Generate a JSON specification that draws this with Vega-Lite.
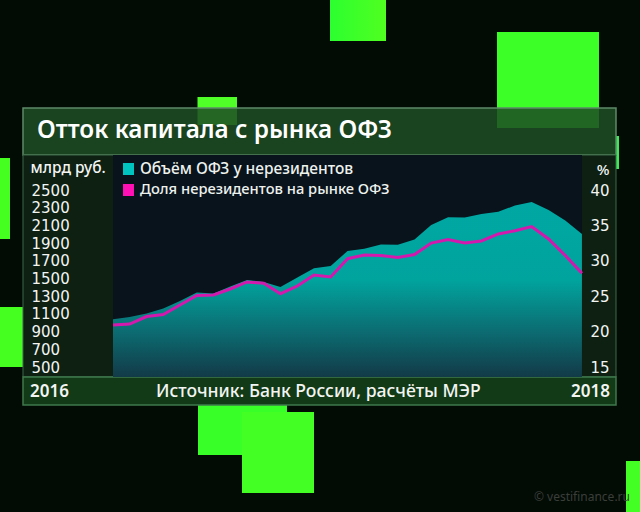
{"$schema":"https://vega.github.io/schema/vega-lite/v6.json","width":640,"height":512,"padding":0,"autosize":{"type":"none"},"background":"#030b05","view":{"stroke":null},"config":{"text":{"font":"Noto Sans"}},
"data":{"values":[
{"year":2016.0,"volume":1039,"share":20.93},{"year":2016.083,"volume":1065,"share":21.07},{"year":2016.167,"volume":1105,"share":22.13},{"year":2016.25,"volume":1161,"share":22.42},{"year":2016.333,"volume":1246,"share":23.76},{"year":2016.417,"volume":1342,"share":25.1},{"year":2016.5,"volume":1331,"share":25.17},{"year":2016.583,"volume":1410,"share":26.02},{"year":2016.667,"volume":1483,"share":27.01},{"year":2016.75,"volume":1461,"share":26.82},{"year":2016.833,"volume":1404,"share":25.35},{"year":2016.917,"volume":1511,"share":26.44},{"year":2017.0,"volume":1615,"share":28.0},{"year":2017.083,"volume":1641,"share":27.71},{"year":2017.167,"volume":1811,"share":30.3},{"year":2017.25,"volume":1837,"share":30.82},{"year":2017.333,"volume":1884,"share":30.75},{"year":2017.417,"volume":1881,"share":30.47},{"year":2017.5,"volume":1941,"share":30.89},{"year":2017.583,"volume":2105,"share":32.51},{"year":2017.667,"volume":2192,"share":33.0},{"year":2017.75,"volume":2188,"share":32.51},{"year":2017.833,"volume":2229,"share":32.8},{"year":2017.917,"volume":2254,"share":33.79},{"year":2018.0,"volume":2325,"share":34.25},{"year":2018.083,"volume":2365,"share":34.84},{"year":2018.167,"volume":2274,"share":33.08},{"year":2018.25,"volume":2155,"share":30.75},{"year":2018.333,"volume":2003,"share":28.23}
]},
"resolve":{"scale":{"y":"independent"},"axis":{"y":"independent"}},
"layer":[
{"layer":[
{"data":{"values":[{}]},"mark":{"type":"rect","color":{"gradient":"linear","x1":0,"y1":0,"x2":1,"y2":0,"stops":[{"offset":0,"color":"#2cff30"},{"offset":1,"color":"#50ff20"}]}},"encoding":{"x":{"datum":2017.0796,"type":"quantitative","axis":null,"scale":{"domain":[2015.4378,2018.6219],"nice":false,"zero":false}},"x2":{"datum":2017.3582},"y":{"datum":4646.9,"type":"quantitative","axis":null,"scale":{"domain":[-1138.3,4646.9],"nice":false,"zero":false}},"y2":{"datum":4183.6}}},
{"data":{"values":[{}]},"mark":{"type":"rect","color":"#3cff28"},"encoding":{"x":{"datum":2017.9104,"type":"quantitative","axis":null},"x2":{"datum":2018.4179},"y":{"datum":4285.3,"type":"quantitative","axis":null},"y2":{"datum":3200.6}}},
{"data":{"values":[{}]},"mark":{"type":"rect","color":"#50ff28"},"encoding":{"x":{"datum":2016.4204,"type":"quantitative","axis":null},"x2":{"datum":2016.6169},"y":{"datum":3550.9,"type":"quantitative","axis":null},"y2":{"datum":3234.5}}},
{"data":{"values":[{}]},"mark":{"type":"rect","color":"#44ff20"},"encoding":{"x":{"datum":2015.4378,"type":"quantitative","axis":null},"x2":{"datum":2015.4876},"y":{"datum":2861.7,"type":"quantitative","axis":null},"y2":{"datum":1946.4}}},
{"data":{"values":[{}]},"mark":{"type":"rect","color":"#44ff20"},"encoding":{"x":{"datum":2015.4378,"type":"quantitative","axis":null},"x2":{"datum":2015.5522},"y":{"datum":1178.1,"type":"quantitative","axis":null},"y2":{"datum":500}}},
{"data":{"values":[{}]},"mark":{"type":"rect","color":"#38ff28"},"encoding":{"x":{"datum":2016.4229,"type":"quantitative","axis":null},"x2":{"datum":2016.8656},"y":{"datum":70.8,"type":"quantitative","axis":null},"y2":{"datum":-494.2}}},
{"data":{"values":[{}]},"mark":{"type":"rect","color":"#44ff24"},"encoding":{"x":{"datum":2016.6418,"type":"quantitative","axis":null},"x2":{"datum":2017.0},"y":{"datum":-8.2,"type":"quantitative","axis":null},"y2":{"datum":-923.4}}},
{"data":{"values":[{}]},"mark":{"type":"rect","color":"#44ff24"},"encoding":{"x":{"datum":2018.5522,"type":"quantitative","axis":null},"x2":{"datum":2018.6219},"y":{"datum":-562,"type":"quantitative","axis":null},"y2":{"datum":-1138.3}}},
{"data":{"values":[{}]},"mark":{"type":"rect","color":"#3ee85a"},"encoding":{"x":{"datum":2018.5025,"type":"quantitative","axis":null},"x2":{"datum":2018.5174},"y":{"datum":3110,"type":"quantitative","axis":null},"y2":{"datum":2737}}},
{"data":{"values":[{}]},"mark":{"type":"rect","color":"#1e4d24","fillOpacity":0.86,"stroke":"#5d8a68","strokeWidth":1.5},"encoding":{"x":{"datum":2015.5522,"type":"quantitative","axis":null},"x2":{"datum":2018.5025},"y":{"datum":3426.6,"type":"quantitative","axis":null},"y2":{"datum":2895.6}}},
{"data":{"values":[{}]},"mark":{"type":"rect","color":"#0e2012","stroke":"#3d6a48","strokeWidth":1},"encoding":{"x":{"datum":2015.5522,"type":"quantitative","axis":null},"x2":{"datum":2018.5025},"y":{"datum":2895.6,"type":"quantitative","axis":null},"y2":{"datum":387.2}}},
{"data":{"values":[{}]},"mark":{"type":"rect","color":"#08131c"},"encoding":{"x":{"datum":2016.0,"type":"quantitative","axis":null},"x2":{"datum":2018.3333},"y":{"datum":2895.6,"type":"quantitative","axis":null},"y2":{"datum":387.2}}},
{"data":{"values":[{}]},"mark":{"type":"rect","color":"#123a17","stroke":"#3f7a4c","strokeWidth":1.5},"encoding":{"x":{"datum":2015.5522,"type":"quantitative","axis":null},"x2":{"datum":2018.5025},"y":{"datum":387.2,"type":"quantitative","axis":null},"y2":{"datum":70.8}}},
{"data":{"values":[{}]},"mark":{"type":"rect","color":"#00c4bf"},"encoding":{"x":{"datum":2016.0498,"type":"quantitative","axis":null},"x2":{"datum":2016.1045},"y":{"datum":2805.2,"type":"quantitative","axis":null},"y2":{"datum":2669.6}}},
{"data":{"values":[{}]},"mark":{"type":"rect","color":"#ff10b4"},"encoding":{"x":{"datum":2016.0498,"type":"quantitative","axis":null},"x2":{"datum":2016.1045},"y":{"datum":2567.9,"type":"quantitative","axis":null},"y2":{"datum":2432.3}}},
{"data":{"values":[{"label":"Объём ОФЗ у нерезидентов"}]},"mark":{"type":"text","align":"left","baseline":"middle","fontSize":15.5,"fontWeight":500,"color":"#eef2ee"},"encoding":{"text":{"field":"label"},"x":{"datum":2016.1343,"type":"quantitative","axis":null},"y":{"datum":2737.4,"type":"quantitative","axis":null}}},
{"data":{"values":[{"label":"Доля нерезидентов на рынке ОФЗ"}]},"mark":{"type":"text","align":"left","baseline":"middle","fontSize":14.7,"fontWeight":500,"color":"#eef2ee"},"encoding":{"text":{"field":"label"},"x":{"datum":2016.1343,"type":"quantitative","axis":null},"y":{"datum":2500.1,"type":"quantitative","axis":null}}},
{"data":{"values":[{"label":"Отток капитала с рынка ОФЗ"}]},"mark":{"type":"text","align":"left","baseline":"middle","fontSize":24.3,"fontWeight":600,"color":"#ffffff"},"encoding":{"text":{"field":"label"},"x":{"datum":2015.6219,"type":"quantitative","axis":null},"y":{"datum":3166.7,"type":"quantitative","axis":null}}},
{"data":{"values":[{"label":"Источник: Банк России, расчёты МЭР"}]},"mark":{"type":"text","align":"left","baseline":"middle","fontSize":17.6,"fontWeight":500,"color":"#f2f5f2"},"encoding":{"text":{"field":"label"},"x":{"datum":2016.2139,"type":"quantitative","axis":null},"y":{"datum":217.7,"type":"quantitative","axis":null}}},
{"data":{"values":[{"label":"2016"}]},"mark":{"type":"text","align":"left","baseline":"middle","fontSize":17,"fontWeight":600,"color":"#f2f5f2"},"encoding":{"text":{"field":"label"},"x":{"datum":2015.5871,"type":"quantitative","axis":null},"y":{"datum":217.7,"type":"quantitative","axis":null}}},
{"data":{"values":[{"label":"2018"}]},"mark":{"type":"text","align":"right","baseline":"middle","fontSize":17,"fontWeight":600,"color":"#f2f5f2"},"encoding":{"text":{"field":"label"},"x":{"datum":2018.4726,"type":"quantitative","axis":null},"y":{"datum":217.7,"type":"quantitative","axis":null}}},
{"data":{"values":[{"label":"© vestifinance.ru"}]},"mark":{"type":"text","align":"right","baseline":"middle","fontSize":12,"color":"#3a3f3a"},"encoding":{"text":{"field":"label"},"x":{"datum":2018.5721,"type":"quantitative","axis":null},"y":{"datum":-968.7,"type":"quantitative","axis":null}}}
]},
{"mark":{"type":"area","color":{"gradient":"linear","x1":1,"y1":0,"x2":1,"y2":1,"stops":[{"offset":0,"color":"#00a8a3"},{"offset":0.45,"color":"#01a39d"},{"offset":0.75,"color":"#0c6a70"},{"offset":1,"color":"#123a47"}]}},"encoding":{"x":{"field":"year","type":"quantitative","axis":null},"y":{"field":"volume","type":"quantitative","scale":{"domain":[-1138.3,4646.9],"nice":false,"zero":false},"axis":{"values":[500,700,900,1100,1300,1500,1700,1900,2100,2300,2500],"format":"d","orient":"left","domain":false,"ticks":false,"grid":false,"labelAlign":"left","labelPadding":-31,"labelColor":"#f2f5f2","labelFont":"DejaVu Sans","labelFontSize":15,"labelBound":false,"labelOverlap":false,"zindex":1,"title":"млрд руб.","titleColor":"#f2f5f2","titleFont":"Noto Sans","titleFontSize":15.5,"titleFontWeight":500,"titleAngle":0,"titleAlign":"left","titleBaseline":"middle","titleX":30,"titleY":167}},"y2":{"datum":387.2}}},
{"mark":{"type":"line","color":"#d418ae","strokeWidth":3},"encoding":{"x":{"field":"year","type":"quantitative","axis":null},"y":{"field":"share","type":"quantitative","scale":{"domain":[-5.48,66.84],"nice":false,"zero":false},"axis":{"values":[15,20,25,30,35,40],"orient":"right","domain":false,"ticks":false,"grid":false,"labelAlign":"right","labelPadding":-31,"labelColor":"#f2f5f2","labelFont":"DejaVu Sans","labelFontSize":15,"labelBound":false,"labelOverlap":false,"zindex":1,"title":"%","titleColor":"#f2f5f2","titleFont":"Noto Sans","titleFontSize":15,"titleFontWeight":500,"titleAngle":0,"titleAlign":"right","titleBaseline":"middle","titleX":-31,"titleY":169}}}}
]}
